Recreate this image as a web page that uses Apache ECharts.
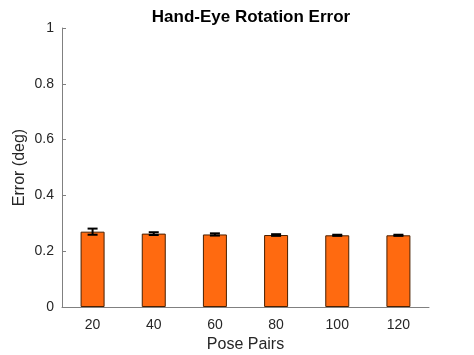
<!DOCTYPE html>
<html>
<head>
<meta charset="utf-8">
<script src="https://cdn.jsdelivr.net/npm/echarts@6/dist/echarts.min.js"></script>
<style>
  html, body { margin: 0; padding: 0; background: #fff; }
  #main { width: 474px; height: 355px; }
</style>
</head>
<body>
<div id="main"></div>
<script>
// pose pair counts and rotation error (deg)
const categories = ["20", "40", "60", "80", "100", "120"];
const meanErr = [0.270, 0.263, 0.260, 0.258, 0.257, 0.257];
const stdErr = [0.011, 0.005, 0.004, 0.003, 0.002, 0.002];
const yTicks = [0, 0.2, 0.4, 0.6, 0.8, 1];

(function () {
  const myChart = echarts.init(document.getElementById("main"));
  const font = "Liberation Sans, Arial, sans-serif";

  const errData = categories.map(function (c, i) {
    return [i, meanErr[i] - stdErr[i], meanErr[i] + stdErr[i]];
  });

  const option = {
    animation: false,
    title: {
      text: "Hand-Eye Rotation Error",
      left: 246,
      textAlign: "center",
      top: 4,
      textStyle: { fontFamily: font, fontSize: 17, fontWeight: "bold", color: "#000" },
    },
    grid: { left: 62, right: 45, top: 28, bottom: 48, containLabel: false, outerBoundsMode: "none" },
    xAxis: {
      type: "category",
      data: categories,
      name: "Pose Pairs",
      nameLocation: "middle",
      nameGap: 30,
      nameTextStyle: { fontFamily: font, fontSize: 16, color: "#262626" },
      axisLine: { lineStyle: { color: "#808080", width: 1 } },
      axisTick: { show: true, inside: true, alignWithLabel: true, length: 4, lineStyle: { color: "#808080" } },
      axisLabel: { fontFamily: font, fontSize: 14, color: "#262626", margin: 11 },
    },
    yAxis: {
      type: "value",
      min: 0,
      max: 1,
      interval: 0.2,
      name: "Error (deg)",
      nameLocation: "middle",
      nameGap: 34,
      nameMoveOverlap: false,
      nameTextStyle: { fontFamily: font, fontSize: 16, color: "#262626" },
      axisLine: { show: true, lineStyle: { color: "#808080", width: 1 } },
      axisTick: { show: true, inside: true, length: 4, lineStyle: { color: "#808080" } },
      axisLabel: {
        fontFamily: font, fontSize: 14, color: "#262626", margin: 8,
        formatter: function (v) {
          const t = yTicks.find(function (k) { return Math.abs(k - v) < 1e-9; });
          return t === undefined ? "" : String(t);
        },
      },
      splitLine: { show: false },
    },
    series: [
      {
        type: "bar",
        data: meanErr,
        barWidth: 24,
        itemStyle: { color: "#ff6a10", borderColor: "#4a2000", borderWidth: 1 },
      },
      {
        type: "custom",
        data: errData,
        z: 10,
        renderItem: function (params, api) {
          const x = api.value(0);
          const lo = api.coord([x, api.value(1)]);
          const hi = api.coord([x, api.value(2)]);
          const cap = 5;
          const style = { stroke: "#000", lineWidth: 2 };
          return {
            type: "group",
            children: [
              { type: "line", shape: { x1: lo[0], y1: lo[1], x2: hi[0], y2: hi[1] }, style: style },
              { type: "line", shape: { x1: lo[0] - cap, y1: lo[1], x2: lo[0] + cap, y2: lo[1] }, style: style },
              { type: "line", shape: { x1: hi[0] - cap, y1: hi[1], x2: hi[0] + cap, y2: hi[1] }, style: style },
            ],
          };
        },
      },
    ],
  };

  myChart.setOption(option);
})();
</script>
</body>
</html>
